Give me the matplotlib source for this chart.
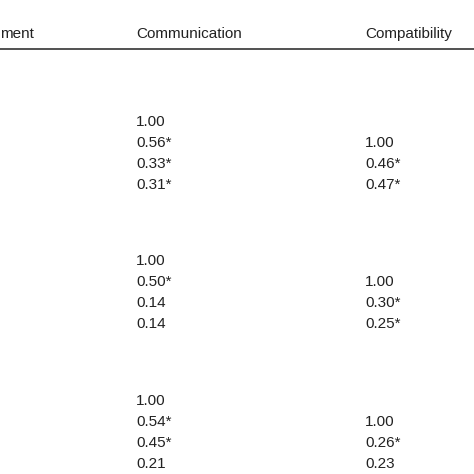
import matplotlib
matplotlib.use("Agg")
import matplotlib.pyplot as plt

headers = ["ment", "Communication", "Compatibility"]
header_x = [0, 136, 365]

communication = [["1.00", "0.56*", "0.33*", "0.31*"],
                 ["1.00", "0.50*", "0.14", "0.14"],
                 ["1.00", "0.54*", "0.45*", "0.21"]]
compatibility = [["", "1.00", "0.46*", "0.47*"],
                 ["", "1.00", "0.30*", "0.25*"],
                 ["", "1.00", "0.26*", "0.23"]]
group_top = [122, 261, 401]
row_step = 21

fig = plt.figure(figsize=(4.74, 4.74), dpi=100)
ax = fig.add_axes([0, 0, 1, 1])
ax.set_xlim(0, 474)
ax.set_ylim(474, 0)
ax.axis("off")

font = dict(family="Liberation Sans", fontsize=11, color="#222222", va="center", ha="left")
for h, x in zip(headers, header_x):
    ax.text(x, 34, h, **font)
ax.plot([0, 474], [49, 49], color="#333333", lw=1.2)

for g, top in enumerate(group_top):
    for i in range(4):
        y = top + i * row_step
        ax.text(header_x[1], y, communication[g][i], **font)
        if compatibility[g][i]:
            ax.text(header_x[2], y, compatibility[g][i], **font)

fig.savefig("out.png", dpi=100)
